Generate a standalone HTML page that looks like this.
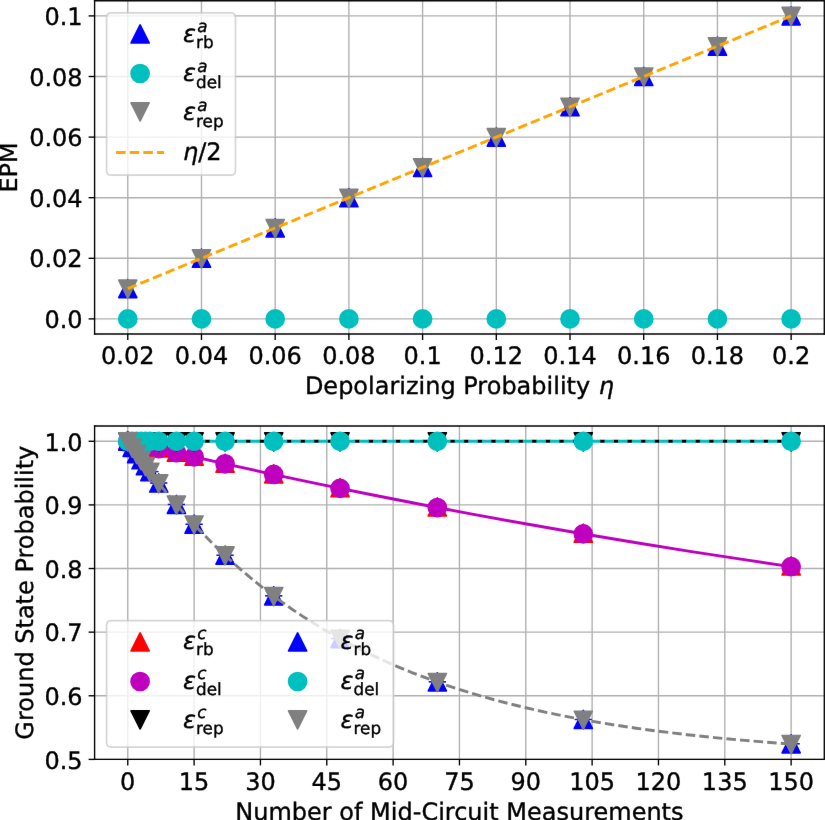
<!DOCTYPE html>
<html><head><meta charset="utf-8"><title>EPM and Ground State Probability</title>
<style>html,body{margin:0;padding:0;background:#fff;overflow:hidden;}svg{display:block;}svg text{text-rendering:geometricPrecision;stroke:#000;stroke-width:0.22px;stroke-linejoin:round;}</style>
</head><body>
<svg width="825" height="820" viewBox="0 0 481.25 478.333333" version="1.1">
 
 <defs>
  <style type="text/css">*{stroke-linejoin: round; stroke-linecap: butt}</style>
 </defs>
 <defs><filter id="soft" filterUnits="userSpaceOnUse" x="-20" y="-20" width="540" height="540" color-interpolation-filters="sRGB"><feConvolveMatrix order="3" kernelMatrix="0.00163 0.03713 0.00163 0.03713 0.84497 0.03713 0.00163 0.03713 0.00163" edgeMode="duplicate"/></filter></defs><g id="figure_1" filter="url(#soft)"><rect x="-20" y="-20" width="540" height="540" fill="#ffffff"/>
  <g id="patch_1">
   <path d="M 0 478.333333 L 481.25 478.333333 L 481.25 0 L 0 0 z" style="fill: #ffffff"/>
  </g>
  <g id="axes_1">
   <g id="patch_2">
    <path d="M 55.183333 194.8625 L 480.841667 194.8625 L 480.841667 0.4375 L 55.183333 0.4375 z" style="fill: #ffffff"/>
   </g>
   <g id="matplotlib.axis_1">
    <g id="xtick_1">
     <g id="line2d_1">
      <path d="M 74.531439 194.8625 L 74.531439 0.4375" clip-path="url(#p21c2584562)" style="fill: none; stroke: #b0b0b0; stroke-width: 0.8; stroke-linecap: square"/>
     </g>
     <g id="line2d_2">
      
      <g>
       <path d="M 0 0 L 0 3.5" transform="translate(74.531439 194.8625)" style="stroke: #000000; stroke-width: 0.8"/>
      </g>
     </g>
     <g id="text_1">
      <text style="font-size: 14px; font-family: 'DejaVu Sans', sans-serif; text-anchor: middle" x="74.531439" y="212.500313" transform="rotate(-0 74.531439 212.500313)">0.02</text>
     </g>
    </g>
    <g id="xtick_2">
     <g id="line2d_3">
      <path d="M 117.527231 194.8625 L 117.527231 0.4375" clip-path="url(#p21c2584562)" style="fill: none; stroke: #b0b0b0; stroke-width: 0.8; stroke-linecap: square"/>
     </g>
     <g id="line2d_4">
      <g>
       <path d="M 0 0 L 0 3.5" transform="translate(117.527231 194.8625)" style="stroke: #000000; stroke-width: 0.8"/>
      </g>
     </g>
     <g id="text_2">
      <text style="font-size: 14px; font-family: 'DejaVu Sans', sans-serif; text-anchor: middle" x="117.527231" y="212.500313" transform="rotate(-0 117.527231 212.500313)">0.04</text>
     </g>
    </g>
    <g id="xtick_3">
     <g id="line2d_5">
      <path d="M 160.523022 194.8625 L 160.523022 0.4375" clip-path="url(#p21c2584562)" style="fill: none; stroke: #b0b0b0; stroke-width: 0.8; stroke-linecap: square"/>
     </g>
     <g id="line2d_6">
      <g>
       <path d="M 0 0 L 0 3.5" transform="translate(160.523022 194.8625)" style="stroke: #000000; stroke-width: 0.8"/>
      </g>
     </g>
     <g id="text_3">
      <text style="font-size: 14px; font-family: 'DejaVu Sans', sans-serif; text-anchor: middle" x="160.523022" y="212.500313" transform="rotate(-0 160.523022 212.500313)">0.06</text>
     </g>
    </g>
    <g id="xtick_4">
     <g id="line2d_7">
      <path d="M 203.518813 194.8625 L 203.518813 0.4375" clip-path="url(#p21c2584562)" style="fill: none; stroke: #b0b0b0; stroke-width: 0.8; stroke-linecap: square"/>
     </g>
     <g id="line2d_8">
      <g>
       <path d="M 0 0 L 0 3.5" transform="translate(203.518813 194.8625)" style="stroke: #000000; stroke-width: 0.8"/>
      </g>
     </g>
     <g id="text_4">
      <text style="font-size: 14px; font-family: 'DejaVu Sans', sans-serif; text-anchor: middle" x="203.518813" y="212.500313" transform="rotate(-0 203.518813 212.500313)">0.08</text>
     </g>
    </g>
    <g id="xtick_5">
     <g id="line2d_9">
      <path d="M 246.514604 194.8625 L 246.514604 0.4375" clip-path="url(#p21c2584562)" style="fill: none; stroke: #b0b0b0; stroke-width: 0.8; stroke-linecap: square"/>
     </g>
     <g id="line2d_10">
      <g>
       <path d="M 0 0 L 0 3.5" transform="translate(246.514604 194.8625)" style="stroke: #000000; stroke-width: 0.8"/>
      </g>
     </g>
     <g id="text_5">
      <text style="font-size: 14px; font-family: 'DejaVu Sans', sans-serif; text-anchor: middle" x="246.514604" y="212.500313" transform="rotate(-0 246.514604 212.500313)">0.1</text>
     </g>
    </g>
    <g id="xtick_6">
     <g id="line2d_11">
      <path d="M 289.510396 194.8625 L 289.510396 0.4375" clip-path="url(#p21c2584562)" style="fill: none; stroke: #b0b0b0; stroke-width: 0.8; stroke-linecap: square"/>
     </g>
     <g id="line2d_12">
      <g>
       <path d="M 0 0 L 0 3.5" transform="translate(289.510396 194.8625)" style="stroke: #000000; stroke-width: 0.8"/>
      </g>
     </g>
     <g id="text_6">
      <text style="font-size: 14px; font-family: 'DejaVu Sans', sans-serif; text-anchor: middle" x="289.510396" y="212.500313" transform="rotate(-0 289.510396 212.500313)">0.12</text>
     </g>
    </g>
    <g id="xtick_7">
     <g id="line2d_13">
      <path d="M 332.506187 194.8625 L 332.506187 0.4375" clip-path="url(#p21c2584562)" style="fill: none; stroke: #b0b0b0; stroke-width: 0.8; stroke-linecap: square"/>
     </g>
     <g id="line2d_14">
      <g>
       <path d="M 0 0 L 0 3.5" transform="translate(332.506187 194.8625)" style="stroke: #000000; stroke-width: 0.8"/>
      </g>
     </g>
     <g id="text_7">
      <text style="font-size: 14px; font-family: 'DejaVu Sans', sans-serif; text-anchor: middle" x="332.506187" y="212.500313" transform="rotate(-0 332.506187 212.500313)">0.14</text>
     </g>
    </g>
    <g id="xtick_8">
     <g id="line2d_15">
      <path d="M 375.501978 194.8625 L 375.501978 0.4375" clip-path="url(#p21c2584562)" style="fill: none; stroke: #b0b0b0; stroke-width: 0.8; stroke-linecap: square"/>
     </g>
     <g id="line2d_16">
      <g>
       <path d="M 0 0 L 0 3.5" transform="translate(375.501978 194.8625)" style="stroke: #000000; stroke-width: 0.8"/>
      </g>
     </g>
     <g id="text_8">
      <text style="font-size: 14px; font-family: 'DejaVu Sans', sans-serif; text-anchor: middle" x="375.501978" y="212.500313" transform="rotate(-0 375.501978 212.500313)">0.16</text>
     </g>
    </g>
    <g id="xtick_9">
     <g id="line2d_17">
      <path d="M 418.497769 194.8625 L 418.497769 0.4375" clip-path="url(#p21c2584562)" style="fill: none; stroke: #b0b0b0; stroke-width: 0.8; stroke-linecap: square"/>
     </g>
     <g id="line2d_18">
      <g>
       <path d="M 0 0 L 0 3.5" transform="translate(418.497769 194.8625)" style="stroke: #000000; stroke-width: 0.8"/>
      </g>
     </g>
     <g id="text_9">
      <text style="font-size: 14px; font-family: 'DejaVu Sans', sans-serif; text-anchor: middle" x="418.497769" y="212.500313" transform="rotate(-0 418.497769 212.500313)">0.18</text>
     </g>
    </g>
    <g id="xtick_10">
     <g id="line2d_19">
      <path d="M 461.493561 194.8625 L 461.493561 0.4375" clip-path="url(#p21c2584562)" style="fill: none; stroke: #b0b0b0; stroke-width: 0.8; stroke-linecap: square"/>
     </g>
     <g id="line2d_20">
      <g>
       <path d="M 0 0 L 0 3.5" transform="translate(461.493561 194.8625)" style="stroke: #000000; stroke-width: 0.8"/>
      </g>
     </g>
     <g id="text_10">
      <text style="font-size: 14px; font-family: 'DejaVu Sans', sans-serif; text-anchor: middle" x="461.493561" y="212.500313" transform="rotate(-0 461.493561 212.500313)">0.2</text>
     </g>
    </g>
    <g id="text_11">
     
     <g transform="translate(177.8525 230.460208)">
      <text><tspan x="0" y="-0.359375" style="font-size: 14px; font-family: 'DejaVu Sans', sans-serif">Depolarizing Probability </tspan><tspan x="171.417969" y="-0.359375" style="font-style: oblique; font-size: 14px; font-family: 'DejaVu Sans', sans-serif">η</tspan></text>
     </g>
    </g>
   </g>
   <g id="matplotlib.axis_2">
    <g id="ytick_1">
     <g id="line2d_21">
      <path d="M 55.183333 186.025 L 480.841667 186.025" clip-path="url(#p21c2584562)" style="fill: none; stroke: #b0b0b0; stroke-width: 0.8; stroke-linecap: square"/>
     </g>
     <g id="line2d_22">
      
      <g>
       <path d="M 0 0 L -3.5 0" transform="translate(55.183333 186.025)" style="stroke: #000000; stroke-width: 0.8"/>
      </g>
     </g>
     <g id="text_12">
      <text style="font-size: 14px; font-family: 'DejaVu Sans', sans-serif; text-anchor: end" x="48.183333" y="191.343906" transform="rotate(-0 48.183333 191.343906)">0.0</text>
     </g>
    </g>
    <g id="ytick_2">
     <g id="line2d_23">
      <path d="M 55.183333 150.675 L 480.841667 150.675" clip-path="url(#p21c2584562)" style="fill: none; stroke: #b0b0b0; stroke-width: 0.8; stroke-linecap: square"/>
     </g>
     <g id="line2d_24">
      <g>
       <path d="M 0 0 L -3.5 0" transform="translate(55.183333 150.675)" style="stroke: #000000; stroke-width: 0.8"/>
      </g>
     </g>
     <g id="text_13">
      <text style="font-size: 14px; font-family: 'DejaVu Sans', sans-serif; text-anchor: end" x="48.183333" y="155.993906" transform="rotate(-0 48.183333 155.993906)">0.02</text>
     </g>
    </g>
    <g id="ytick_3">
     <g id="line2d_25">
      <path d="M 55.183333 115.325 L 480.841667 115.325" clip-path="url(#p21c2584562)" style="fill: none; stroke: #b0b0b0; stroke-width: 0.8; stroke-linecap: square"/>
     </g>
     <g id="line2d_26">
      <g>
       <path d="M 0 0 L -3.5 0" transform="translate(55.183333 115.325)" style="stroke: #000000; stroke-width: 0.8"/>
      </g>
     </g>
     <g id="text_14">
      <text style="font-size: 14px; font-family: 'DejaVu Sans', sans-serif; text-anchor: end" x="48.183333" y="120.643906" transform="rotate(-0 48.183333 120.643906)">0.04</text>
     </g>
    </g>
    <g id="ytick_4">
     <g id="line2d_27">
      <path d="M 55.183333 79.975 L 480.841667 79.975" clip-path="url(#p21c2584562)" style="fill: none; stroke: #b0b0b0; stroke-width: 0.8; stroke-linecap: square"/>
     </g>
     <g id="line2d_28">
      <g>
       <path d="M 0 0 L -3.5 0" transform="translate(55.183333 79.975)" style="stroke: #000000; stroke-width: 0.8"/>
      </g>
     </g>
     <g id="text_15">
      <text style="font-size: 14px; font-family: 'DejaVu Sans', sans-serif; text-anchor: end" x="48.183333" y="85.293906" transform="rotate(-0 48.183333 85.293906)">0.06</text>
     </g>
    </g>
    <g id="ytick_5">
     <g id="line2d_29">
      <path d="M 55.183333 44.625 L 480.841667 44.625" clip-path="url(#p21c2584562)" style="fill: none; stroke: #b0b0b0; stroke-width: 0.8; stroke-linecap: square"/>
     </g>
     <g id="line2d_30">
      <g>
       <path d="M 0 0 L -3.5 0" transform="translate(55.183333 44.625)" style="stroke: #000000; stroke-width: 0.8"/>
      </g>
     </g>
     <g id="text_16">
      <text style="font-size: 14px; font-family: 'DejaVu Sans', sans-serif; text-anchor: end" x="48.183333" y="49.943906" transform="rotate(-0 48.183333 49.943906)">0.08</text>
     </g>
    </g>
    <g id="ytick_6">
     <g id="line2d_31">
      <path d="M 55.183333 9.275 L 480.841667 9.275" clip-path="url(#p21c2584562)" style="fill: none; stroke: #b0b0b0; stroke-width: 0.8; stroke-linecap: square"/>
     </g>
     <g id="line2d_32">
      <g>
       <path d="M 0 0 L -3.5 0" transform="translate(55.183333 9.275)" style="stroke: #000000; stroke-width: 0.8"/>
      </g>
     </g>
     <g id="text_17">
      <text style="font-size: 14px; font-family: 'DejaVu Sans', sans-serif; text-anchor: end" x="48.183333" y="14.593906" transform="rotate(-0 48.183333 14.593906)">0.1</text>
     </g>
    </g>
    <g id="text_18">
     <text style="font-size: 14px; font-family: 'DejaVu Sans', sans-serif; text-anchor: middle" x="10.099896" y="97.65" transform="rotate(-90 10.099896 97.65)">EPM</text>
    </g>
   </g>
   <g id="line2d_33">
    
    <g clip-path="url(#p21c2584562)">
     <path d="M 0 -5.25 L -5.25 5.25 L 5.25 5.25 z" transform="translate(74.531439 168.317333)" style="fill: #0000ff; stroke: #0000ff"/>
     <path d="M 0 -5.25 L -5.25 5.25 L 5.25 5.25 z" transform="translate(117.527231 150.642333)" style="fill: #0000ff; stroke: #0000ff"/>
     <path d="M 0 -5.25 L -5.25 5.25 L 5.25 5.25 z" transform="translate(160.523022 132.967333)" style="fill: #0000ff; stroke: #0000ff"/>
     <path d="M 0 -5.25 L -5.25 5.25 L 5.25 5.25 z" transform="translate(203.518813 115.292333)" style="fill: #0000ff; stroke: #0000ff"/>
     <path d="M 0 -5.25 L -5.25 5.25 L 5.25 5.25 z" transform="translate(246.514604 97.617333)" style="fill: #0000ff; stroke: #0000ff"/>
     <path d="M 0 -5.25 L -5.25 5.25 L 5.25 5.25 z" transform="translate(289.510396 79.942333)" style="fill: #0000ff; stroke: #0000ff"/>
     <path d="M 0 -5.25 L -5.25 5.25 L 5.25 5.25 z" transform="translate(332.506187 62.267333)" style="fill: #0000ff; stroke: #0000ff"/>
     <path d="M 0 -5.25 L -5.25 5.25 L 5.25 5.25 z" transform="translate(375.501978 44.592333)" style="fill: #0000ff; stroke: #0000ff"/>
     <path d="M 0 -5.25 L -5.25 5.25 L 5.25 5.25 z" transform="translate(418.497769 26.917333)" style="fill: #0000ff; stroke: #0000ff"/>
     <path d="M 0 -5.25 L -5.25 5.25 L 5.25 5.25 z" transform="translate(461.493561 9.242333)" style="fill: #0000ff; stroke: #0000ff"/>
    </g>
   </g>
   <g id="line2d_34">
    
    <g clip-path="url(#p21c2584562)">
     <path d="M 0 5.25 C 1.392316 5.25 2.727794 4.696827 3.712311 3.712311 C 4.696827 2.727794 5.25 1.392316 5.25 0 C 5.25 -1.392316 4.696827 -2.727794 3.712311 -3.712311 C 2.727794 -4.696827 1.392316 -5.25 0 -5.25 C -1.392316 -5.25 -2.727794 -4.696827 -3.712311 -3.712311 C -4.696827 -2.727794 -5.25 -1.392316 -5.25 0 C -5.25 1.392316 -4.696827 2.727794 -3.712311 3.712311 C -2.727794 4.696827 -1.392316 5.25 0 5.25 z" transform="translate(74.531439 186.025)" style="fill: #00bfbf; stroke: #00bfbf"/>
     <path d="M 0 5.25 C 1.392316 5.25 2.727794 4.696827 3.712311 3.712311 C 4.696827 2.727794 5.25 1.392316 5.25 0 C 5.25 -1.392316 4.696827 -2.727794 3.712311 -3.712311 C 2.727794 -4.696827 1.392316 -5.25 0 -5.25 C -1.392316 -5.25 -2.727794 -4.696827 -3.712311 -3.712311 C -4.696827 -2.727794 -5.25 -1.392316 -5.25 0 C -5.25 1.392316 -4.696827 2.727794 -3.712311 3.712311 C -2.727794 4.696827 -1.392316 5.25 0 5.25 z" transform="translate(117.527231 186.025)" style="fill: #00bfbf; stroke: #00bfbf"/>
     <path d="M 0 5.25 C 1.392316 5.25 2.727794 4.696827 3.712311 3.712311 C 4.696827 2.727794 5.25 1.392316 5.25 0 C 5.25 -1.392316 4.696827 -2.727794 3.712311 -3.712311 C 2.727794 -4.696827 1.392316 -5.25 0 -5.25 C -1.392316 -5.25 -2.727794 -4.696827 -3.712311 -3.712311 C -4.696827 -2.727794 -5.25 -1.392316 -5.25 0 C -5.25 1.392316 -4.696827 2.727794 -3.712311 3.712311 C -2.727794 4.696827 -1.392316 5.25 0 5.25 z" transform="translate(160.523022 186.025)" style="fill: #00bfbf; stroke: #00bfbf"/>
     <path d="M 0 5.25 C 1.392316 5.25 2.727794 4.696827 3.712311 3.712311 C 4.696827 2.727794 5.25 1.392316 5.25 0 C 5.25 -1.392316 4.696827 -2.727794 3.712311 -3.712311 C 2.727794 -4.696827 1.392316 -5.25 0 -5.25 C -1.392316 -5.25 -2.727794 -4.696827 -3.712311 -3.712311 C -4.696827 -2.727794 -5.25 -1.392316 -5.25 0 C -5.25 1.392316 -4.696827 2.727794 -3.712311 3.712311 C -2.727794 4.696827 -1.392316 5.25 0 5.25 z" transform="translate(203.518813 186.025)" style="fill: #00bfbf; stroke: #00bfbf"/>
     <path d="M 0 5.25 C 1.392316 5.25 2.727794 4.696827 3.712311 3.712311 C 4.696827 2.727794 5.25 1.392316 5.25 0 C 5.25 -1.392316 4.696827 -2.727794 3.712311 -3.712311 C 2.727794 -4.696827 1.392316 -5.25 0 -5.25 C -1.392316 -5.25 -2.727794 -4.696827 -3.712311 -3.712311 C -4.696827 -2.727794 -5.25 -1.392316 -5.25 0 C -5.25 1.392316 -4.696827 2.727794 -3.712311 3.712311 C -2.727794 4.696827 -1.392316 5.25 0 5.25 z" transform="translate(246.514604 186.025)" style="fill: #00bfbf; stroke: #00bfbf"/>
     <path d="M 0 5.25 C 1.392316 5.25 2.727794 4.696827 3.712311 3.712311 C 4.696827 2.727794 5.25 1.392316 5.25 0 C 5.25 -1.392316 4.696827 -2.727794 3.712311 -3.712311 C 2.727794 -4.696827 1.392316 -5.25 0 -5.25 C -1.392316 -5.25 -2.727794 -4.696827 -3.712311 -3.712311 C -4.696827 -2.727794 -5.25 -1.392316 -5.25 0 C -5.25 1.392316 -4.696827 2.727794 -3.712311 3.712311 C -2.727794 4.696827 -1.392316 5.25 0 5.25 z" transform="translate(289.510396 186.025)" style="fill: #00bfbf; stroke: #00bfbf"/>
     <path d="M 0 5.25 C 1.392316 5.25 2.727794 4.696827 3.712311 3.712311 C 4.696827 2.727794 5.25 1.392316 5.25 0 C 5.25 -1.392316 4.696827 -2.727794 3.712311 -3.712311 C 2.727794 -4.696827 1.392316 -5.25 0 -5.25 C -1.392316 -5.25 -2.727794 -4.696827 -3.712311 -3.712311 C -4.696827 -2.727794 -5.25 -1.392316 -5.25 0 C -5.25 1.392316 -4.696827 2.727794 -3.712311 3.712311 C -2.727794 4.696827 -1.392316 5.25 0 5.25 z" transform="translate(332.506187 186.025)" style="fill: #00bfbf; stroke: #00bfbf"/>
     <path d="M 0 5.25 C 1.392316 5.25 2.727794 4.696827 3.712311 3.712311 C 4.696827 2.727794 5.25 1.392316 5.25 0 C 5.25 -1.392316 4.696827 -2.727794 3.712311 -3.712311 C 2.727794 -4.696827 1.392316 -5.25 0 -5.25 C -1.392316 -5.25 -2.727794 -4.696827 -3.712311 -3.712311 C -4.696827 -2.727794 -5.25 -1.392316 -5.25 0 C -5.25 1.392316 -4.696827 2.727794 -3.712311 3.712311 C -2.727794 4.696827 -1.392316 5.25 0 5.25 z" transform="translate(375.501978 186.025)" style="fill: #00bfbf; stroke: #00bfbf"/>
     <path d="M 0 5.25 C 1.392316 5.25 2.727794 4.696827 3.712311 3.712311 C 4.696827 2.727794 5.25 1.392316 5.25 0 C 5.25 -1.392316 4.696827 -2.727794 3.712311 -3.712311 C 2.727794 -4.696827 1.392316 -5.25 0 -5.25 C -1.392316 -5.25 -2.727794 -4.696827 -3.712311 -3.712311 C -4.696827 -2.727794 -5.25 -1.392316 -5.25 0 C -5.25 1.392316 -4.696827 2.727794 -3.712311 3.712311 C -2.727794 4.696827 -1.392316 5.25 0 5.25 z" transform="translate(418.497769 186.025)" style="fill: #00bfbf; stroke: #00bfbf"/>
     <path d="M 0 5.25 C 1.392316 5.25 2.727794 4.696827 3.712311 3.712311 C 4.696827 2.727794 5.25 1.392316 5.25 0 C 5.25 -1.392316 4.696827 -2.727794 3.712311 -3.712311 C 2.727794 -4.696827 1.392316 -5.25 0 -5.25 C -1.392316 -5.25 -2.727794 -4.696827 -3.712311 -3.712311 C -4.696827 -2.727794 -5.25 -1.392316 -5.25 0 C -5.25 1.392316 -4.696827 2.727794 -3.712311 3.712311 C -2.727794 4.696827 -1.392316 5.25 0 5.25 z" transform="translate(461.493561 186.025)" style="fill: #00bfbf; stroke: #00bfbf"/>
    </g>
   </g>
   <g id="line2d_35">
    
    <g clip-path="url(#p21c2584562)">
     <path d="M -0 5.25 L 5.25 -5.25 L -5.25 -5.25 z" transform="translate(74.531439 168.670833)" style="fill: #808080; stroke: #808080"/>
     <path d="M -0 5.25 L 5.25 -5.25 L -5.25 -5.25 z" transform="translate(117.527231 150.995833)" style="fill: #808080; stroke: #808080"/>
     <path d="M -0 5.25 L 5.25 -5.25 L -5.25 -5.25 z" transform="translate(160.523022 133.320833)" style="fill: #808080; stroke: #808080"/>
     <path d="M -0 5.25 L 5.25 -5.25 L -5.25 -5.25 z" transform="translate(203.518813 115.645833)" style="fill: #808080; stroke: #808080"/>
     <path d="M -0 5.25 L 5.25 -5.25 L -5.25 -5.25 z" transform="translate(246.514604 97.970833)" style="fill: #808080; stroke: #808080"/>
     <path d="M -0 5.25 L 5.25 -5.25 L -5.25 -5.25 z" transform="translate(289.510396 80.295833)" style="fill: #808080; stroke: #808080"/>
     <path d="M -0 5.25 L 5.25 -5.25 L -5.25 -5.25 z" transform="translate(332.506187 62.620833)" style="fill: #808080; stroke: #808080"/>
     <path d="M -0 5.25 L 5.25 -5.25 L -5.25 -5.25 z" transform="translate(375.501978 44.945833)" style="fill: #808080; stroke: #808080"/>
     <path d="M -0 5.25 L 5.25 -5.25 L -5.25 -5.25 z" transform="translate(418.497769 27.270833)" style="fill: #808080; stroke: #808080"/>
     <path d="M -0 5.25 L 5.25 -5.25 L -5.25 -5.25 z" transform="translate(461.493561 9.595833)" style="fill: #808080; stroke: #808080"/>
    </g>
   </g>
   <g id="line2d_36">
    <path d="M 74.531439 168.35 L 117.527231 150.675 L 160.523022 133 L 203.518813 115.325 L 246.514604 97.65 L 289.510396 79.975 L 332.506187 62.3 L 375.501978 44.625 L 418.497769 26.95 L 461.493561 9.275" clip-path="url(#p21c2584562)" style="fill: none; stroke-dasharray: 5.5475,2.3975; stroke-dashoffset: 0; stroke: #ffa500; stroke-width: 1.7"/>
   </g>
   <g id="patch_3">
    <path d="M 55.183333 194.8625 L 55.183333 0.4375" style="fill: none; stroke: #000000; stroke-width: 0.8; stroke-linejoin: miter; stroke-linecap: square"/>
   </g>
   <g id="patch_4">
    <path d="M 480.841667 194.8625 L 480.841667 0.4375" style="fill: none; stroke: #000000; stroke-width: 0.8; stroke-linejoin: miter; stroke-linecap: square"/>
   </g>
   <g id="patch_5">
    <path d="M 55.183333 194.8625 L 480.841667 194.8625" style="fill: none; stroke: #000000; stroke-width: 0.8; stroke-linejoin: miter; stroke-linecap: square"/>
   </g>
   <g id="patch_6">
    <path d="M 55.183333 0.4375 L 480.841667 0.4375" style="fill: none; stroke: #000000; stroke-width: 0.8; stroke-linejoin: miter; stroke-linecap: square"/>
   </g>
  </g>
  <g id="axes_2">
   <g id="patch_7">
    <path d="M 55.183333 442.983333 L 480.841667 442.983333 L 480.841667 248.5 L 55.183333 248.5 z" style="fill: #ffffff"/>
   </g>
   <g id="matplotlib.axis_3">
    <g id="xtick_11">
     <g id="line2d_37">
      <path d="M 74.531439 442.983333 L 74.531439 248.5" clip-path="url(#pf8ef71c514)" style="fill: none; stroke: #b0b0b0; stroke-width: 0.8; stroke-linecap: square"/>
     </g>
     <g id="line2d_38">
      <g>
       <path d="M 0 0 L 0 3.5" transform="translate(74.531439 442.983333)" style="stroke: #000000; stroke-width: 0.8"/>
      </g>
     </g>
     <g id="text_19">
      <text style="font-size: 14px; font-family: 'DejaVu Sans', sans-serif; text-anchor: middle" x="74.531439" y="460.621146" transform="rotate(-0 74.531439 460.621146)">0</text>
     </g>
    </g>
    <g id="xtick_12">
     <g id="line2d_39">
      <path d="M 113.227652 442.983333 L 113.227652 248.5" clip-path="url(#pf8ef71c514)" style="fill: none; stroke: #b0b0b0; stroke-width: 0.8; stroke-linecap: square"/>
     </g>
     <g id="line2d_40">
      <g>
       <path d="M 0 0 L 0 3.5" transform="translate(113.227652 442.983333)" style="stroke: #000000; stroke-width: 0.8"/>
      </g>
     </g>
     <g id="text_20">
      <text style="font-size: 14px; font-family: 'DejaVu Sans', sans-serif; text-anchor: middle" x="113.227652" y="460.621146" transform="rotate(-0 113.227652 460.621146)">15</text>
     </g>
    </g>
    <g id="xtick_13">
     <g id="line2d_41">
      <path d="M 151.923864 442.983333 L 151.923864 248.5" clip-path="url(#pf8ef71c514)" style="fill: none; stroke: #b0b0b0; stroke-width: 0.8; stroke-linecap: square"/>
     </g>
     <g id="line2d_42">
      <g>
       <path d="M 0 0 L 0 3.5" transform="translate(151.923864 442.983333)" style="stroke: #000000; stroke-width: 0.8"/>
      </g>
     </g>
     <g id="text_21">
      <text style="font-size: 14px; font-family: 'DejaVu Sans', sans-serif; text-anchor: middle" x="151.923864" y="460.621146" transform="rotate(-0 151.923864 460.621146)">30</text>
     </g>
    </g>
    <g id="xtick_14">
     <g id="line2d_43">
      <path d="M 190.620076 442.983333 L 190.620076 248.5" clip-path="url(#pf8ef71c514)" style="fill: none; stroke: #b0b0b0; stroke-width: 0.8; stroke-linecap: square"/>
     </g>
     <g id="line2d_44">
      <g>
       <path d="M 0 0 L 0 3.5" transform="translate(190.620076 442.983333)" style="stroke: #000000; stroke-width: 0.8"/>
      </g>
     </g>
     <g id="text_22">
      <text style="font-size: 14px; font-family: 'DejaVu Sans', sans-serif; text-anchor: middle" x="190.620076" y="460.621146" transform="rotate(-0 190.620076 460.621146)">45</text>
     </g>
    </g>
    <g id="xtick_15">
     <g id="line2d_45">
      <path d="M 229.316288 442.983333 L 229.316288 248.5" clip-path="url(#pf8ef71c514)" style="fill: none; stroke: #b0b0b0; stroke-width: 0.8; stroke-linecap: square"/>
     </g>
     <g id="line2d_46">
      <g>
       <path d="M 0 0 L 0 3.5" transform="translate(229.316288 442.983333)" style="stroke: #000000; stroke-width: 0.8"/>
      </g>
     </g>
     <g id="text_23">
      <text style="font-size: 14px; font-family: 'DejaVu Sans', sans-serif; text-anchor: middle" x="229.316288" y="460.621146" transform="rotate(-0 229.316288 460.621146)">60</text>
     </g>
    </g>
    <g id="xtick_16">
     <g id="line2d_47">
      <path d="M 268.0125 442.983333 L 268.0125 248.5" clip-path="url(#pf8ef71c514)" style="fill: none; stroke: #b0b0b0; stroke-width: 0.8; stroke-linecap: square"/>
     </g>
     <g id="line2d_48">
      <g>
       <path d="M 0 0 L 0 3.5" transform="translate(268.0125 442.983333)" style="stroke: #000000; stroke-width: 0.8"/>
      </g>
     </g>
     <g id="text_24">
      <text style="font-size: 14px; font-family: 'DejaVu Sans', sans-serif; text-anchor: middle" x="268.0125" y="460.621146" transform="rotate(-0 268.0125 460.621146)">75</text>
     </g>
    </g>
    <g id="xtick_17">
     <g id="line2d_49">
      <path d="M 306.708712 442.983333 L 306.708712 248.5" clip-path="url(#pf8ef71c514)" style="fill: none; stroke: #b0b0b0; stroke-width: 0.8; stroke-linecap: square"/>
     </g>
     <g id="line2d_50">
      <g>
       <path d="M 0 0 L 0 3.5" transform="translate(306.708712 442.983333)" style="stroke: #000000; stroke-width: 0.8"/>
      </g>
     </g>
     <g id="text_25">
      <text style="font-size: 14px; font-family: 'DejaVu Sans', sans-serif; text-anchor: middle" x="306.708712" y="460.621146" transform="rotate(-0 306.708712 460.621146)">90</text>
     </g>
    </g>
    <g id="xtick_18">
     <g id="line2d_51">
      <path d="M 345.404924 442.983333 L 345.404924 248.5" clip-path="url(#pf8ef71c514)" style="fill: none; stroke: #b0b0b0; stroke-width: 0.8; stroke-linecap: square"/>
     </g>
     <g id="line2d_52">
      <g>
       <path d="M 0 0 L 0 3.5" transform="translate(345.404924 442.983333)" style="stroke: #000000; stroke-width: 0.8"/>
      </g>
     </g>
     <g id="text_26">
      <text style="font-size: 14px; font-family: 'DejaVu Sans', sans-serif; text-anchor: middle" x="345.404924" y="460.621146" transform="rotate(-0 345.404924 460.621146)">105</text>
     </g>
    </g>
    <g id="xtick_19">
     <g id="line2d_53">
      <path d="M 384.101136 442.983333 L 384.101136 248.5" clip-path="url(#pf8ef71c514)" style="fill: none; stroke: #b0b0b0; stroke-width: 0.8; stroke-linecap: square"/>
     </g>
     <g id="line2d_54">
      <g>
       <path d="M 0 0 L 0 3.5" transform="translate(384.101136 442.983333)" style="stroke: #000000; stroke-width: 0.8"/>
      </g>
     </g>
     <g id="text_27">
      <text style="font-size: 14px; font-family: 'DejaVu Sans', sans-serif; text-anchor: middle" x="384.101136" y="460.621146" transform="rotate(-0 384.101136 460.621146)">120</text>
     </g>
    </g>
    <g id="xtick_20">
     <g id="line2d_55">
      <path d="M 422.797348 442.983333 L 422.797348 248.5" clip-path="url(#pf8ef71c514)" style="fill: none; stroke: #b0b0b0; stroke-width: 0.8; stroke-linecap: square"/>
     </g>
     <g id="line2d_56">
      <g>
       <path d="M 0 0 L 0 3.5" transform="translate(422.797348 442.983333)" style="stroke: #000000; stroke-width: 0.8"/>
      </g>
     </g>
     <g id="text_28">
      <text style="font-size: 14px; font-family: 'DejaVu Sans', sans-serif; text-anchor: middle" x="422.797348" y="460.621146" transform="rotate(-0 422.797348 460.621146)">135</text>
     </g>
    </g>
    <g id="xtick_21">
     <g id="line2d_57">
      <path d="M 461.493561 442.983333 L 461.493561 248.5" clip-path="url(#pf8ef71c514)" style="fill: none; stroke: #b0b0b0; stroke-width: 0.8; stroke-linecap: square"/>
     </g>
     <g id="line2d_58">
      <g>
       <path d="M 0 0 L 0 3.5" transform="translate(461.493561 442.983333)" style="stroke: #000000; stroke-width: 0.8"/>
      </g>
     </g>
     <g id="text_29">
      <text style="font-size: 14px; font-family: 'DejaVu Sans', sans-serif; text-anchor: middle" x="461.493561" y="460.621146" transform="rotate(-0 461.493561 460.621146)">150</text>
     </g>
    </g>
    <g id="text_30">
     <text style="font-size: 14px; font-family: 'DejaVu Sans', sans-serif; text-anchor: middle" x="268.0125" y="478.170521" transform="rotate(-0 268.0125 478.170521)">Number of Mid-Circuit Measurements</text>
    </g>
   </g>
   <g id="matplotlib.axis_4">
    <g id="ytick_7">
     <g id="line2d_59">
      <path d="M 55.183333 442.983333 L 480.841667 442.983333" clip-path="url(#pf8ef71c514)" style="fill: none; stroke: #b0b0b0; stroke-width: 0.8; stroke-linecap: square"/>
     </g>
     <g id="line2d_60">
      <g>
       <path d="M 0 0 L -3.5 0" transform="translate(55.183333 442.983333)" style="stroke: #000000; stroke-width: 0.8"/>
      </g>
     </g>
     <g id="text_31">
      <text style="font-size: 14px; font-family: 'DejaVu Sans', sans-serif; text-anchor: end" x="48.183333" y="448.30224" transform="rotate(-0 48.183333 448.30224)">0.5</text>
     </g>
    </g>
    <g id="ytick_8">
     <g id="line2d_61">
      <path d="M 55.183333 405.868193 L 480.841667 405.868193" clip-path="url(#pf8ef71c514)" style="fill: none; stroke: #b0b0b0; stroke-width: 0.8; stroke-linecap: square"/>
     </g>
     <g id="line2d_62">
      <g>
       <path d="M 0 0 L -3.5 0" transform="translate(55.183333 405.868193)" style="stroke: #000000; stroke-width: 0.8"/>
      </g>
     </g>
     <g id="text_32">
      <text style="font-size: 14px; font-family: 'DejaVu Sans', sans-serif; text-anchor: end" x="48.183333" y="411.1871" transform="rotate(-0 48.183333 411.1871)">0.6</text>
     </g>
    </g>
    <g id="ytick_9">
     <g id="line2d_63">
      <path d="M 55.183333 368.753053 L 480.841667 368.753053" clip-path="url(#pf8ef71c514)" style="fill: none; stroke: #b0b0b0; stroke-width: 0.8; stroke-linecap: square"/>
     </g>
     <g id="line2d_64">
      <g>
       <path d="M 0 0 L -3.5 0" transform="translate(55.183333 368.753053)" style="stroke: #000000; stroke-width: 0.8"/>
      </g>
     </g>
     <g id="text_33">
      <text style="font-size: 14px; font-family: 'DejaVu Sans', sans-serif; text-anchor: end" x="48.183333" y="374.07196" transform="rotate(-0 48.183333 374.07196)">0.7</text>
     </g>
    </g>
    <g id="ytick_10">
     <g id="line2d_65">
      <path d="M 55.183333 331.637913 L 480.841667 331.637913" clip-path="url(#pf8ef71c514)" style="fill: none; stroke: #b0b0b0; stroke-width: 0.8; stroke-linecap: square"/>
     </g>
     <g id="line2d_66">
      <g>
       <path d="M 0 0 L -3.5 0" transform="translate(55.183333 331.637913)" style="stroke: #000000; stroke-width: 0.8"/>
      </g>
     </g>
     <g id="text_34">
      <text style="font-size: 14px; font-family: 'DejaVu Sans', sans-serif; text-anchor: end" x="48.183333" y="336.95682" transform="rotate(-0 48.183333 336.95682)">0.8</text>
     </g>
    </g>
    <g id="ytick_11">
     <g id="line2d_67">
      <path d="M 55.183333 294.522774 L 480.841667 294.522774" clip-path="url(#pf8ef71c514)" style="fill: none; stroke: #b0b0b0; stroke-width: 0.8; stroke-linecap: square"/>
     </g>
     <g id="line2d_68">
      <g>
       <path d="M 0 0 L -3.5 0" transform="translate(55.183333 294.522774)" style="stroke: #000000; stroke-width: 0.8"/>
      </g>
     </g>
     <g id="text_35">
      <text style="font-size: 14px; font-family: 'DejaVu Sans', sans-serif; text-anchor: end" x="48.183333" y="299.84168" transform="rotate(-0 48.183333 299.84168)">0.9</text>
     </g>
    </g>
    <g id="ytick_12">
     <g id="line2d_69">
      <path d="M 55.183333 257.407634 L 480.841667 257.407634" clip-path="url(#pf8ef71c514)" style="fill: none; stroke: #b0b0b0; stroke-width: 0.8; stroke-linecap: square"/>
     </g>
     <g id="line2d_70">
      <g>
       <path d="M 0 0 L -3.5 0" transform="translate(55.183333 257.407634)" style="stroke: #000000; stroke-width: 0.8"/>
      </g>
     </g>
     <g id="text_36">
      <text style="font-size: 14px; font-family: 'DejaVu Sans', sans-serif; text-anchor: end" x="48.183333" y="263.309873" transform="rotate(-0 48.183333 263.309873)">1.0</text>
     </g>
    </g>
    <g id="text_37">
     <text style="font-size: 14px; font-family: 'DejaVu Sans', sans-serif; text-anchor: middle" x="19.007396" y="345.741667" transform="rotate(-90 19.007396 345.741667)">Ground State Probability</text>
    </g>
   </g>
   <g id="line2d_71">
    
    <g clip-path="url(#pf8ef71c514)">
     <path d="M 0 -5.25 L -5.25 5.25 L 5.25 5.25 z" transform="translate(74.531439 257.036482)" style="fill: #ff0000; stroke: #ff0000"/>
     <path d="M 0 -5.25 L -5.25 5.25 L 5.25 5.25 z" transform="translate(77.111187 257.655271)" style="fill: #ff0000; stroke: #ff0000"/>
     <path d="M 0 -5.25 L -5.25 5.25 L 5.25 5.25 z" transform="translate(79.690934 258.271997)" style="fill: #ff0000; stroke: #ff0000"/>
     <path d="M 0 -5.25 L -5.25 5.25 L 5.25 5.25 z" transform="translate(82.270682 258.886666)" style="fill: #ff0000; stroke: #ff0000"/>
     <path d="M 0 -5.25 L -5.25 5.25 L 5.25 5.25 z" transform="translate(84.850429 259.499285)" style="fill: #ff0000; stroke: #ff0000"/>
     <path d="M 0 -5.25 L -5.25 5.25 L 5.25 5.25 z" transform="translate(87.430177 260.109862)" style="fill: #ff0000; stroke: #ff0000"/>
     <path d="M 0 -5.25 L -5.25 5.25 L 5.25 5.25 z" transform="translate(92.589672 261.324915)" style="fill: #ff0000; stroke: #ff0000"/>
     <path d="M 0 -5.25 L -5.25 5.25 L 5.25 5.25 z" transform="translate(102.908662 263.730806)" style="fill: #ff0000; stroke: #ff0000"/>
     <path d="M 0 -5.25 L -5.25 5.25 L 5.25 5.25 z" transform="translate(113.227652 266.104767)" style="fill: #ff0000; stroke: #ff0000"/>
     <path d="M 0 -5.25 L -5.25 5.25 L 5.25 5.25 z" transform="translate(131.285884 270.183643)" style="fill: #ff0000; stroke: #ff0000"/>
     <path d="M 0 -5.25 L -5.25 5.25 L 5.25 5.25 z" transform="translate(159.663106 276.403705)" style="fill: #ff0000; stroke: #ff0000"/>
     <path d="M 0 -5.25 L -5.25 5.25 L 5.25 5.25 z" transform="translate(198.359318 284.525598)" style="fill: #ff0000; stroke: #ff0000"/>
     <path d="M 0 -5.25 L -5.25 5.25 L 5.25 5.25 z" transform="translate(255.113763 295.725285)" style="fill: #ff0000; stroke: #ff0000"/>
     <path d="M 0 -5.25 L -5.25 5.25 L 5.25 5.25 z" transform="translate(340.245429 311.054831)" style="fill: #ff0000; stroke: #ff0000"/>
     <path d="M 0 -5.25 L -5.25 5.25 L 5.25 5.25 z" transform="translate(461.493561 330.167331)" style="fill: #ff0000; stroke: #ff0000"/>
    </g>
   </g>
   <g id="line2d_72">
    <path d="M 74.531439 257.407634 L 101.664009 263.813466 L 129.442592 270.1428 L 157.867188 276.387943 L 186.291785 282.407434 L 215.362395 288.338824 L 245.079019 294.175633 L 275.441656 299.911855 L 306.450307 305.541961 L 338.104971 311.060898 L 370.405649 316.464088 L 403.35234 321.74742 L 436.945045 326.907251 L 461.493561 330.538483 L 461.493561 330.538483" clip-path="url(#pf8ef71c514)" style="fill: none; stroke: #bf00bf; stroke-width: 1.7; stroke-linecap: square"/>
   </g>
   <g id="line2d_73">
    
    <g clip-path="url(#pf8ef71c514)">
     <path d="M 0 5.25 C 1.392316 5.25 2.727794 4.696827 3.712311 3.712311 C 4.696827 2.727794 5.25 1.392316 5.25 0 C 5.25 -1.392316 4.696827 -2.727794 3.712311 -3.712311 C 2.727794 -4.696827 1.392316 -5.25 0 -5.25 C -1.392316 -5.25 -2.727794 -4.696827 -3.712311 -3.712311 C -4.696827 -2.727794 -5.25 -1.392316 -5.25 0 C -5.25 1.392316 -4.696827 2.727794 -3.712311 3.712311 C -2.727794 4.696827 -1.392316 5.25 0 5.25 z" transform="translate(74.531439 257.407634)" style="fill: #bf00bf; stroke: #bf00bf"/>
     <path d="M 0 5.25 C 1.392316 5.25 2.727794 4.696827 3.712311 3.712311 C 4.696827 2.727794 5.25 1.392316 5.25 0 C 5.25 -1.392316 4.696827 -2.727794 3.712311 -3.712311 C 2.727794 -4.696827 1.392316 -5.25 0 -5.25 C -1.392316 -5.25 -2.727794 -4.696827 -3.712311 -3.712311 C -4.696827 -2.727794 -5.25 -1.392316 -5.25 0 C -5.25 1.392316 -4.696827 2.727794 -3.712311 3.712311 C -2.727794 4.696827 -1.392316 5.25 0 5.25 z" transform="translate(77.111187 258.026422)" style="fill: #bf00bf; stroke: #bf00bf"/>
     <path d="M 0 5.25 C 1.392316 5.25 2.727794 4.696827 3.712311 3.712311 C 4.696827 2.727794 5.25 1.392316 5.25 0 C 5.25 -1.392316 4.696827 -2.727794 3.712311 -3.712311 C 2.727794 -4.696827 1.392316 -5.25 0 -5.25 C -1.392316 -5.25 -2.727794 -4.696827 -3.712311 -3.712311 C -4.696827 -2.727794 -5.25 -1.392316 -5.25 0 C -5.25 1.392316 -4.696827 2.727794 -3.712311 3.712311 C -2.727794 4.696827 -1.392316 5.25 0 5.25 z" transform="translate(79.690934 258.643148)" style="fill: #bf00bf; stroke: #bf00bf"/>
     <path d="M 0 5.25 C 1.392316 5.25 2.727794 4.696827 3.712311 3.712311 C 4.696827 2.727794 5.25 1.392316 5.25 0 C 5.25 -1.392316 4.696827 -2.727794 3.712311 -3.712311 C 2.727794 -4.696827 1.392316 -5.25 0 -5.25 C -1.392316 -5.25 -2.727794 -4.696827 -3.712311 -3.712311 C -4.696827 -2.727794 -5.25 -1.392316 -5.25 0 C -5.25 1.392316 -4.696827 2.727794 -3.712311 3.712311 C -2.727794 4.696827 -1.392316 5.25 0 5.25 z" transform="translate(82.270682 259.257817)" style="fill: #bf00bf; stroke: #bf00bf"/>
     <path d="M 0 5.25 C 1.392316 5.25 2.727794 4.696827 3.712311 3.712311 C 4.696827 2.727794 5.25 1.392316 5.25 0 C 5.25 -1.392316 4.696827 -2.727794 3.712311 -3.712311 C 2.727794 -4.696827 1.392316 -5.25 0 -5.25 C -1.392316 -5.25 -2.727794 -4.696827 -3.712311 -3.712311 C -4.696827 -2.727794 -5.25 -1.392316 -5.25 0 C -5.25 1.392316 -4.696827 2.727794 -3.712311 3.712311 C -2.727794 4.696827 -1.392316 5.25 0 5.25 z" transform="translate(84.850429 259.870437)" style="fill: #bf00bf; stroke: #bf00bf"/>
     <path d="M 0 5.25 C 1.392316 5.25 2.727794 4.696827 3.712311 3.712311 C 4.696827 2.727794 5.25 1.392316 5.25 0 C 5.25 -1.392316 4.696827 -2.727794 3.712311 -3.712311 C 2.727794 -4.696827 1.392316 -5.25 0 -5.25 C -1.392316 -5.25 -2.727794 -4.696827 -3.712311 -3.712311 C -4.696827 -2.727794 -5.25 -1.392316 -5.25 0 C -5.25 1.392316 -4.696827 2.727794 -3.712311 3.712311 C -2.727794 4.696827 -1.392316 5.25 0 5.25 z" transform="translate(87.430177 260.481014)" style="fill: #bf00bf; stroke: #bf00bf"/>
     <path d="M 0 5.25 C 1.392316 5.25 2.727794 4.696827 3.712311 3.712311 C 4.696827 2.727794 5.25 1.392316 5.25 0 C 5.25 -1.392316 4.696827 -2.727794 3.712311 -3.712311 C 2.727794 -4.696827 1.392316 -5.25 0 -5.25 C -1.392316 -5.25 -2.727794 -4.696827 -3.712311 -3.712311 C -4.696827 -2.727794 -5.25 -1.392316 -5.25 0 C -5.25 1.392316 -4.696827 2.727794 -3.712311 3.712311 C -2.727794 4.696827 -1.392316 5.25 0 5.25 z" transform="translate(92.589672 261.696066)" style="fill: #bf00bf; stroke: #bf00bf"/>
     <path d="M 0 5.25 C 1.392316 5.25 2.727794 4.696827 3.712311 3.712311 C 4.696827 2.727794 5.25 1.392316 5.25 0 C 5.25 -1.392316 4.696827 -2.727794 3.712311 -3.712311 C 2.727794 -4.696827 1.392316 -5.25 0 -5.25 C -1.392316 -5.25 -2.727794 -4.696827 -3.712311 -3.712311 C -4.696827 -2.727794 -5.25 -1.392316 -5.25 0 C -5.25 1.392316 -4.696827 2.727794 -3.712311 3.712311 C -2.727794 4.696827 -1.392316 5.25 0 5.25 z" transform="translate(102.908662 264.101957)" style="fill: #bf00bf; stroke: #bf00bf"/>
     <path d="M 0 5.25 C 1.392316 5.25 2.727794 4.696827 3.712311 3.712311 C 4.696827 2.727794 5.25 1.392316 5.25 0 C 5.25 -1.392316 4.696827 -2.727794 3.712311 -3.712311 C 2.727794 -4.696827 1.392316 -5.25 0 -5.25 C -1.392316 -5.25 -2.727794 -4.696827 -3.712311 -3.712311 C -4.696827 -2.727794 -5.25 -1.392316 -5.25 0 C -5.25 1.392316 -4.696827 2.727794 -3.712311 3.712311 C -2.727794 4.696827 -1.392316 5.25 0 5.25 z" transform="translate(113.227652 266.475919)" style="fill: #bf00bf; stroke: #bf00bf"/>
     <path d="M 0 5.25 C 1.392316 5.25 2.727794 4.696827 3.712311 3.712311 C 4.696827 2.727794 5.25 1.392316 5.25 0 C 5.25 -1.392316 4.696827 -2.727794 3.712311 -3.712311 C 2.727794 -4.696827 1.392316 -5.25 0 -5.25 C -1.392316 -5.25 -2.727794 -4.696827 -3.712311 -3.712311 C -4.696827 -2.727794 -5.25 -1.392316 -5.25 0 C -5.25 1.392316 -4.696827 2.727794 -3.712311 3.712311 C -2.727794 4.696827 -1.392316 5.25 0 5.25 z" transform="translate(131.285884 270.554794)" style="fill: #bf00bf; stroke: #bf00bf"/>
     <path d="M 0 5.25 C 1.392316 5.25 2.727794 4.696827 3.712311 3.712311 C 4.696827 2.727794 5.25 1.392316 5.25 0 C 5.25 -1.392316 4.696827 -2.727794 3.712311 -3.712311 C 2.727794 -4.696827 1.392316 -5.25 0 -5.25 C -1.392316 -5.25 -2.727794 -4.696827 -3.712311 -3.712311 C -4.696827 -2.727794 -5.25 -1.392316 -5.25 0 C -5.25 1.392316 -4.696827 2.727794 -3.712311 3.712311 C -2.727794 4.696827 -1.392316 5.25 0 5.25 z" transform="translate(159.663106 276.774857)" style="fill: #bf00bf; stroke: #bf00bf"/>
     <path d="M 0 5.25 C 1.392316 5.25 2.727794 4.696827 3.712311 3.712311 C 4.696827 2.727794 5.25 1.392316 5.25 0 C 5.25 -1.392316 4.696827 -2.727794 3.712311 -3.712311 C 2.727794 -4.696827 1.392316 -5.25 0 -5.25 C -1.392316 -5.25 -2.727794 -4.696827 -3.712311 -3.712311 C -4.696827 -2.727794 -5.25 -1.392316 -5.25 0 C -5.25 1.392316 -4.696827 2.727794 -3.712311 3.712311 C -2.727794 4.696827 -1.392316 5.25 0 5.25 z" transform="translate(198.359318 284.896749)" style="fill: #bf00bf; stroke: #bf00bf"/>
     <path d="M 0 5.25 C 1.392316 5.25 2.727794 4.696827 3.712311 3.712311 C 4.696827 2.727794 5.25 1.392316 5.25 0 C 5.25 -1.392316 4.696827 -2.727794 3.712311 -3.712311 C 2.727794 -4.696827 1.392316 -5.25 0 -5.25 C -1.392316 -5.25 -2.727794 -4.696827 -3.712311 -3.712311 C -4.696827 -2.727794 -5.25 -1.392316 -5.25 0 C -5.25 1.392316 -4.696827 2.727794 -3.712311 3.712311 C -2.727794 4.696827 -1.392316 5.25 0 5.25 z" transform="translate(255.113763 296.096436)" style="fill: #bf00bf; stroke: #bf00bf"/>
     <path d="M 0 5.25 C 1.392316 5.25 2.727794 4.696827 3.712311 3.712311 C 4.696827 2.727794 5.25 1.392316 5.25 0 C 5.25 -1.392316 4.696827 -2.727794 3.712311 -3.712311 C 2.727794 -4.696827 1.392316 -5.25 0 -5.25 C -1.392316 -5.25 -2.727794 -4.696827 -3.712311 -3.712311 C -4.696827 -2.727794 -5.25 -1.392316 -5.25 0 C -5.25 1.392316 -4.696827 2.727794 -3.712311 3.712311 C -2.727794 4.696827 -1.392316 5.25 0 5.25 z" transform="translate(340.245429 311.425983)" style="fill: #bf00bf; stroke: #bf00bf"/>
     <path d="M 0 5.25 C 1.392316 5.25 2.727794 4.696827 3.712311 3.712311 C 4.696827 2.727794 5.25 1.392316 5.25 0 C 5.25 -1.392316 4.696827 -2.727794 3.712311 -3.712311 C 2.727794 -4.696827 1.392316 -5.25 0 -5.25 C -1.392316 -5.25 -2.727794 -4.696827 -3.712311 -3.712311 C -4.696827 -2.727794 -5.25 -1.392316 -5.25 0 C -5.25 1.392316 -4.696827 2.727794 -3.712311 3.712311 C -2.727794 4.696827 -1.392316 5.25 0 5.25 z" transform="translate(461.493561 330.538483)" style="fill: #bf00bf; stroke: #bf00bf"/>
    </g>
   </g>
   <g id="line2d_74">
    <path d="M 74.531439 257.407634 L 461.493561 257.407634 L 461.493561 257.407634" clip-path="url(#pf8ef71c514)" style="fill: none; stroke-dasharray: 2.980833,4.964167; stroke-dashoffset: 2.689167; stroke: #000000; stroke-width: 1.7"/>
   </g>
   <g id="line2d_75">
    
    <g clip-path="url(#pf8ef71c514)">
     <path d="M -0 5.25 L 5.25 -5.25 L -5.25 -5.25 z" transform="translate(74.531439 257.728447)" style="stroke: #000000"/>
     <path d="M -0 5.25 L 5.25 -5.25 L -5.25 -5.25 z" transform="translate(77.111187 257.728447)" style="stroke: #000000"/>
     <path d="M -0 5.25 L 5.25 -5.25 L -5.25 -5.25 z" transform="translate(79.690934 257.728447)" style="stroke: #000000"/>
     <path d="M -0 5.25 L 5.25 -5.25 L -5.25 -5.25 z" transform="translate(82.270682 257.728447)" style="stroke: #000000"/>
     <path d="M -0 5.25 L 5.25 -5.25 L -5.25 -5.25 z" transform="translate(84.850429 257.728447)" style="stroke: #000000"/>
     <path d="M -0 5.25 L 5.25 -5.25 L -5.25 -5.25 z" transform="translate(87.430177 257.728447)" style="stroke: #000000"/>
     <path d="M -0 5.25 L 5.25 -5.25 L -5.25 -5.25 z" transform="translate(92.589672 257.728447)" style="stroke: #000000"/>
     <path d="M -0 5.25 L 5.25 -5.25 L -5.25 -5.25 z" transform="translate(102.908662 257.728447)" style="stroke: #000000"/>
     <path d="M -0 5.25 L 5.25 -5.25 L -5.25 -5.25 z" transform="translate(113.227652 257.728447)" style="stroke: #000000"/>
     <path d="M -0 5.25 L 5.25 -5.25 L -5.25 -5.25 z" transform="translate(131.285884 257.728447)" style="stroke: #000000"/>
     <path d="M -0 5.25 L 5.25 -5.25 L -5.25 -5.25 z" transform="translate(159.663106 257.728447)" style="stroke: #000000"/>
     <path d="M -0 5.25 L 5.25 -5.25 L -5.25 -5.25 z" transform="translate(198.359318 257.728447)" style="stroke: #000000"/>
     <path d="M -0 5.25 L 5.25 -5.25 L -5.25 -5.25 z" transform="translate(255.113763 257.728447)" style="stroke: #000000"/>
     <path d="M -0 5.25 L 5.25 -5.25 L -5.25 -5.25 z" transform="translate(340.245429 257.728447)" style="stroke: #000000"/>
     <path d="M -0 5.25 L 5.25 -5.25 L -5.25 -5.25 z" transform="translate(461.493561 257.728447)" style="stroke: #000000"/>
    </g>
   </g>
   <g id="LineCollection_1">
    <path d="M 74.531439 257.431525 L 74.531439 257.134604" clip-path="url(#pf8ef71c514)" style="fill: none; stroke: #0000ff"/>
    <path d="M 77.111187 261.143039 L 77.111187 260.846118" clip-path="url(#pf8ef71c514)" style="fill: none; stroke: #0000ff"/>
    <path d="M 79.690934 264.780323 L 79.690934 264.483402" clip-path="url(#pf8ef71c514)" style="fill: none; stroke: #0000ff"/>
    <path d="M 82.270682 268.344861 L 82.270682 268.04794" clip-path="url(#pf8ef71c514)" style="fill: none; stroke: #0000ff"/>
    <path d="M 84.850429 271.838108 L 84.850429 271.541187" clip-path="url(#pf8ef71c514)" style="fill: none; stroke: #0000ff"/>
    <path d="M 87.430177 275.261491 L 87.430177 274.96457" clip-path="url(#pf8ef71c514)" style="fill: none; stroke: #0000ff"/>
    <path d="M 92.589672 281.904222 L 92.589672 281.607301" clip-path="url(#pf8ef71c514)" style="fill: none; stroke: #0000ff"/>
    <path d="M 102.908662 294.410944 L 102.908662 294.114023" clip-path="url(#pf8ef71c514)" style="fill: none; stroke: #0000ff"/>
    <path d="M 113.227652 305.946747 L 113.227652 305.649826" clip-path="url(#pf8ef71c514)" style="fill: none; stroke: #0000ff"/>
    <path d="M 131.285884 324.021525 L 131.285884 323.724603" clip-path="url(#pf8ef71c514)" style="fill: none; stroke: #0000ff"/>
    <path d="M 159.663106 347.731644 L 159.663106 347.434723" clip-path="url(#pf8ef71c514)" style="fill: none; stroke: #0000ff"/>
    <path d="M 198.359318 372.639625 L 198.359318 372.342704" clip-path="url(#pf8ef71c514)" style="fill: none; stroke: #0000ff"/>
    <path d="M 255.113763 397.889582 L 255.113763 397.592661" clip-path="url(#pf8ef71c514)" style="fill: none; stroke: #0000ff"/>
    <path d="M 340.245429 419.84358 L 340.245429 419.546659" clip-path="url(#pf8ef71c514)" style="fill: none; stroke: #0000ff"/>
    <path d="M 461.493561 434.044657 L 461.493561 433.747736" clip-path="url(#pf8ef71c514)" style="fill: none; stroke: #0000ff"/>
   </g>
   <g id="line2d_76">
    
    <g clip-path="url(#pf8ef71c514)">
     <path d="M 5 0 L -5 -0" transform="translate(74.531439 257.431525)" style="fill: #1f77b4; stroke: #0000ff; stroke-width: 0.55"/>
     <path d="M 5 0 L -5 -0" transform="translate(77.111187 261.143039)" style="fill: #1f77b4; stroke: #0000ff; stroke-width: 0.55"/>
     <path d="M 5 0 L -5 -0" transform="translate(79.690934 264.780323)" style="fill: #1f77b4; stroke: #0000ff; stroke-width: 0.55"/>
     <path d="M 5 0 L -5 -0" transform="translate(82.270682 268.344861)" style="fill: #1f77b4; stroke: #0000ff; stroke-width: 0.55"/>
     <path d="M 5 0 L -5 -0" transform="translate(84.850429 271.838108)" style="fill: #1f77b4; stroke: #0000ff; stroke-width: 0.55"/>
     <path d="M 5 0 L -5 -0" transform="translate(87.430177 275.261491)" style="fill: #1f77b4; stroke: #0000ff; stroke-width: 0.55"/>
     <path d="M 5 0 L -5 -0" transform="translate(92.589672 281.904222)" style="fill: #1f77b4; stroke: #0000ff; stroke-width: 0.55"/>
     <path d="M 5 0 L -5 -0" transform="translate(102.908662 294.410944)" style="fill: #1f77b4; stroke: #0000ff; stroke-width: 0.55"/>
     <path d="M 5 0 L -5 -0" transform="translate(113.227652 305.946747)" style="fill: #1f77b4; stroke: #0000ff; stroke-width: 0.55"/>
     <path d="M 5 0 L -5 -0" transform="translate(131.285884 324.021525)" style="fill: #1f77b4; stroke: #0000ff; stroke-width: 0.55"/>
     <path d="M 5 0 L -5 -0" transform="translate(159.663106 347.731644)" style="fill: #1f77b4; stroke: #0000ff; stroke-width: 0.55"/>
     <path d="M 5 0 L -5 -0" transform="translate(198.359318 372.639625)" style="fill: #1f77b4; stroke: #0000ff; stroke-width: 0.55"/>
     <path d="M 5 0 L -5 -0" transform="translate(255.113763 397.889582)" style="fill: #1f77b4; stroke: #0000ff; stroke-width: 0.55"/>
     <path d="M 5 0 L -5 -0" transform="translate(340.245429 419.84358)" style="fill: #1f77b4; stroke: #0000ff; stroke-width: 0.55"/>
     <path d="M 5 0 L -5 -0" transform="translate(461.493561 434.044657)" style="fill: #1f77b4; stroke: #0000ff; stroke-width: 0.55"/>
    </g>
   </g>
   <g id="line2d_77">
    <g clip-path="url(#pf8ef71c514)">
     <path d="M 5 0 L -5 -0" transform="translate(74.531439 257.134604)" style="fill: #1f77b4; stroke: #0000ff; stroke-width: 0.55"/>
     <path d="M 5 0 L -5 -0" transform="translate(77.111187 260.846118)" style="fill: #1f77b4; stroke: #0000ff; stroke-width: 0.55"/>
     <path d="M 5 0 L -5 -0" transform="translate(79.690934 264.483402)" style="fill: #1f77b4; stroke: #0000ff; stroke-width: 0.55"/>
     <path d="M 5 0 L -5 -0" transform="translate(82.270682 268.04794)" style="fill: #1f77b4; stroke: #0000ff; stroke-width: 0.55"/>
     <path d="M 5 0 L -5 -0" transform="translate(84.850429 271.541187)" style="fill: #1f77b4; stroke: #0000ff; stroke-width: 0.55"/>
     <path d="M 5 0 L -5 -0" transform="translate(87.430177 274.96457)" style="fill: #1f77b4; stroke: #0000ff; stroke-width: 0.55"/>
     <path d="M 5 0 L -5 -0" transform="translate(92.589672 281.607301)" style="fill: #1f77b4; stroke: #0000ff; stroke-width: 0.55"/>
     <path d="M 5 0 L -5 -0" transform="translate(102.908662 294.114023)" style="fill: #1f77b4; stroke: #0000ff; stroke-width: 0.55"/>
     <path d="M 5 0 L -5 -0" transform="translate(113.227652 305.649826)" style="fill: #1f77b4; stroke: #0000ff; stroke-width: 0.55"/>
     <path d="M 5 0 L -5 -0" transform="translate(131.285884 323.724603)" style="fill: #1f77b4; stroke: #0000ff; stroke-width: 0.55"/>
     <path d="M 5 0 L -5 -0" transform="translate(159.663106 347.434723)" style="fill: #1f77b4; stroke: #0000ff; stroke-width: 0.55"/>
     <path d="M 5 0 L -5 -0" transform="translate(198.359318 372.342704)" style="fill: #1f77b4; stroke: #0000ff; stroke-width: 0.55"/>
     <path d="M 5 0 L -5 -0" transform="translate(255.113763 397.592661)" style="fill: #1f77b4; stroke: #0000ff; stroke-width: 0.55"/>
     <path d="M 5 0 L -5 -0" transform="translate(340.245429 419.546659)" style="fill: #1f77b4; stroke: #0000ff; stroke-width: 0.55"/>
     <path d="M 5 0 L -5 -0" transform="translate(461.493561 433.747736)" style="fill: #1f77b4; stroke: #0000ff; stroke-width: 0.55"/>
    </g>
   </g>
   <g id="line2d_78">
    <g clip-path="url(#pf8ef71c514)">
     <path d="M 0 -5.25 L -5.25 5.25 L 5.25 5.25 z" transform="translate(74.531439 257.283065)" style="fill: #0000ff; stroke: #0000ff"/>
     <path d="M 0 -5.25 L -5.25 5.25 L 5.25 5.25 z" transform="translate(77.111187 260.994579)" style="fill: #0000ff; stroke: #0000ff"/>
     <path d="M 0 -5.25 L -5.25 5.25 L 5.25 5.25 z" transform="translate(79.690934 264.631863)" style="fill: #0000ff; stroke: #0000ff"/>
     <path d="M 0 -5.25 L -5.25 5.25 L 5.25 5.25 z" transform="translate(82.270682 268.196401)" style="fill: #0000ff; stroke: #0000ff"/>
     <path d="M 0 -5.25 L -5.25 5.25 L 5.25 5.25 z" transform="translate(84.850429 271.689648)" style="fill: #0000ff; stroke: #0000ff"/>
     <path d="M 0 -5.25 L -5.25 5.25 L 5.25 5.25 z" transform="translate(87.430177 275.11303)" style="fill: #0000ff; stroke: #0000ff"/>
     <path d="M 0 -5.25 L -5.25 5.25 L 5.25 5.25 z" transform="translate(92.589672 281.755761)" style="fill: #0000ff; stroke: #0000ff"/>
     <path d="M 0 -5.25 L -5.25 5.25 L 5.25 5.25 z" transform="translate(102.908662 294.262484)" style="fill: #0000ff; stroke: #0000ff"/>
     <path d="M 0 -5.25 L -5.25 5.25 L 5.25 5.25 z" transform="translate(113.227652 305.798287)" style="fill: #0000ff; stroke: #0000ff"/>
     <path d="M 0 -5.25 L -5.25 5.25 L 5.25 5.25 z" transform="translate(131.285884 323.873064)" style="fill: #0000ff; stroke: #0000ff"/>
     <path d="M 0 -5.25 L -5.25 5.25 L 5.25 5.25 z" transform="translate(159.663106 347.583184)" style="fill: #0000ff; stroke: #0000ff"/>
     <path d="M 0 -5.25 L -5.25 5.25 L 5.25 5.25 z" transform="translate(198.359318 372.491164)" style="fill: #0000ff; stroke: #0000ff"/>
     <path d="M 0 -5.25 L -5.25 5.25 L 5.25 5.25 z" transform="translate(255.113763 397.741121)" style="fill: #0000ff; stroke: #0000ff"/>
     <path d="M 0 -5.25 L -5.25 5.25 L 5.25 5.25 z" transform="translate(340.245429 419.695119)" style="fill: #0000ff; stroke: #0000ff"/>
     <path d="M 0 -5.25 L -5.25 5.25 L 5.25 5.25 z" transform="translate(461.493561 433.896197)" style="fill: #0000ff; stroke: #0000ff"/>
    </g>
   </g>
   <g id="line2d_79">
    <path d="M 74.531439 257.407634 L 461.493561 257.407634 L 461.493561 257.407634" clip-path="url(#pf8ef71c514)" style="fill: none; stroke-dasharray: 5.5475,2.3975; stroke-dashoffset: 0; stroke: #00bfbf; stroke-width: 1.7"/>
   </g>
   <g id="line2d_80">
    <g clip-path="url(#pf8ef71c514)">
     <path d="M 0 5.25 C 1.392316 5.25 2.727794 4.696827 3.712311 3.712311 C 4.696827 2.727794 5.25 1.392316 5.25 0 C 5.25 -1.392316 4.696827 -2.727794 3.712311 -3.712311 C 2.727794 -4.696827 1.392316 -5.25 0 -5.25 C -1.392316 -5.25 -2.727794 -4.696827 -3.712311 -3.712311 C -4.696827 -2.727794 -5.25 -1.392316 -5.25 0 C -5.25 1.392316 -4.696827 2.727794 -3.712311 3.712311 C -2.727794 4.696827 -1.392316 5.25 0 5.25 z" transform="translate(74.531439 257.407634)" style="fill: #00bfbf; stroke: #00bfbf"/>
     <path d="M 0 5.25 C 1.392316 5.25 2.727794 4.696827 3.712311 3.712311 C 4.696827 2.727794 5.25 1.392316 5.25 0 C 5.25 -1.392316 4.696827 -2.727794 3.712311 -3.712311 C 2.727794 -4.696827 1.392316 -5.25 0 -5.25 C -1.392316 -5.25 -2.727794 -4.696827 -3.712311 -3.712311 C -4.696827 -2.727794 -5.25 -1.392316 -5.25 0 C -5.25 1.392316 -4.696827 2.727794 -3.712311 3.712311 C -2.727794 4.696827 -1.392316 5.25 0 5.25 z" transform="translate(77.111187 257.407634)" style="fill: #00bfbf; stroke: #00bfbf"/>
     <path d="M 0 5.25 C 1.392316 5.25 2.727794 4.696827 3.712311 3.712311 C 4.696827 2.727794 5.25 1.392316 5.25 0 C 5.25 -1.392316 4.696827 -2.727794 3.712311 -3.712311 C 2.727794 -4.696827 1.392316 -5.25 0 -5.25 C -1.392316 -5.25 -2.727794 -4.696827 -3.712311 -3.712311 C -4.696827 -2.727794 -5.25 -1.392316 -5.25 0 C -5.25 1.392316 -4.696827 2.727794 -3.712311 3.712311 C -2.727794 4.696827 -1.392316 5.25 0 5.25 z" transform="translate(79.690934 257.407634)" style="fill: #00bfbf; stroke: #00bfbf"/>
     <path d="M 0 5.25 C 1.392316 5.25 2.727794 4.696827 3.712311 3.712311 C 4.696827 2.727794 5.25 1.392316 5.25 0 C 5.25 -1.392316 4.696827 -2.727794 3.712311 -3.712311 C 2.727794 -4.696827 1.392316 -5.25 0 -5.25 C -1.392316 -5.25 -2.727794 -4.696827 -3.712311 -3.712311 C -4.696827 -2.727794 -5.25 -1.392316 -5.25 0 C -5.25 1.392316 -4.696827 2.727794 -3.712311 3.712311 C -2.727794 4.696827 -1.392316 5.25 0 5.25 z" transform="translate(82.270682 257.407634)" style="fill: #00bfbf; stroke: #00bfbf"/>
     <path d="M 0 5.25 C 1.392316 5.25 2.727794 4.696827 3.712311 3.712311 C 4.696827 2.727794 5.25 1.392316 5.25 0 C 5.25 -1.392316 4.696827 -2.727794 3.712311 -3.712311 C 2.727794 -4.696827 1.392316 -5.25 0 -5.25 C -1.392316 -5.25 -2.727794 -4.696827 -3.712311 -3.712311 C -4.696827 -2.727794 -5.25 -1.392316 -5.25 0 C -5.25 1.392316 -4.696827 2.727794 -3.712311 3.712311 C -2.727794 4.696827 -1.392316 5.25 0 5.25 z" transform="translate(84.850429 257.407634)" style="fill: #00bfbf; stroke: #00bfbf"/>
     <path d="M 0 5.25 C 1.392316 5.25 2.727794 4.696827 3.712311 3.712311 C 4.696827 2.727794 5.25 1.392316 5.25 0 C 5.25 -1.392316 4.696827 -2.727794 3.712311 -3.712311 C 2.727794 -4.696827 1.392316 -5.25 0 -5.25 C -1.392316 -5.25 -2.727794 -4.696827 -3.712311 -3.712311 C -4.696827 -2.727794 -5.25 -1.392316 -5.25 0 C -5.25 1.392316 -4.696827 2.727794 -3.712311 3.712311 C -2.727794 4.696827 -1.392316 5.25 0 5.25 z" transform="translate(87.430177 257.407634)" style="fill: #00bfbf; stroke: #00bfbf"/>
     <path d="M 0 5.25 C 1.392316 5.25 2.727794 4.696827 3.712311 3.712311 C 4.696827 2.727794 5.25 1.392316 5.25 0 C 5.25 -1.392316 4.696827 -2.727794 3.712311 -3.712311 C 2.727794 -4.696827 1.392316 -5.25 0 -5.25 C -1.392316 -5.25 -2.727794 -4.696827 -3.712311 -3.712311 C -4.696827 -2.727794 -5.25 -1.392316 -5.25 0 C -5.25 1.392316 -4.696827 2.727794 -3.712311 3.712311 C -2.727794 4.696827 -1.392316 5.25 0 5.25 z" transform="translate(92.589672 257.407634)" style="fill: #00bfbf; stroke: #00bfbf"/>
     <path d="M 0 5.25 C 1.392316 5.25 2.727794 4.696827 3.712311 3.712311 C 4.696827 2.727794 5.25 1.392316 5.25 0 C 5.25 -1.392316 4.696827 -2.727794 3.712311 -3.712311 C 2.727794 -4.696827 1.392316 -5.25 0 -5.25 C -1.392316 -5.25 -2.727794 -4.696827 -3.712311 -3.712311 C -4.696827 -2.727794 -5.25 -1.392316 -5.25 0 C -5.25 1.392316 -4.696827 2.727794 -3.712311 3.712311 C -2.727794 4.696827 -1.392316 5.25 0 5.25 z" transform="translate(102.908662 257.407634)" style="fill: #00bfbf; stroke: #00bfbf"/>
     <path d="M 0 5.25 C 1.392316 5.25 2.727794 4.696827 3.712311 3.712311 C 4.696827 2.727794 5.25 1.392316 5.25 0 C 5.25 -1.392316 4.696827 -2.727794 3.712311 -3.712311 C 2.727794 -4.696827 1.392316 -5.25 0 -5.25 C -1.392316 -5.25 -2.727794 -4.696827 -3.712311 -3.712311 C -4.696827 -2.727794 -5.25 -1.392316 -5.25 0 C -5.25 1.392316 -4.696827 2.727794 -3.712311 3.712311 C -2.727794 4.696827 -1.392316 5.25 0 5.25 z" transform="translate(113.227652 257.407634)" style="fill: #00bfbf; stroke: #00bfbf"/>
     <path d="M 0 5.25 C 1.392316 5.25 2.727794 4.696827 3.712311 3.712311 C 4.696827 2.727794 5.25 1.392316 5.25 0 C 5.25 -1.392316 4.696827 -2.727794 3.712311 -3.712311 C 2.727794 -4.696827 1.392316 -5.25 0 -5.25 C -1.392316 -5.25 -2.727794 -4.696827 -3.712311 -3.712311 C -4.696827 -2.727794 -5.25 -1.392316 -5.25 0 C -5.25 1.392316 -4.696827 2.727794 -3.712311 3.712311 C -2.727794 4.696827 -1.392316 5.25 0 5.25 z" transform="translate(131.285884 257.407634)" style="fill: #00bfbf; stroke: #00bfbf"/>
     <path d="M 0 5.25 C 1.392316 5.25 2.727794 4.696827 3.712311 3.712311 C 4.696827 2.727794 5.25 1.392316 5.25 0 C 5.25 -1.392316 4.696827 -2.727794 3.712311 -3.712311 C 2.727794 -4.696827 1.392316 -5.25 0 -5.25 C -1.392316 -5.25 -2.727794 -4.696827 -3.712311 -3.712311 C -4.696827 -2.727794 -5.25 -1.392316 -5.25 0 C -5.25 1.392316 -4.696827 2.727794 -3.712311 3.712311 C -2.727794 4.696827 -1.392316 5.25 0 5.25 z" transform="translate(159.663106 257.407634)" style="fill: #00bfbf; stroke: #00bfbf"/>
     <path d="M 0 5.25 C 1.392316 5.25 2.727794 4.696827 3.712311 3.712311 C 4.696827 2.727794 5.25 1.392316 5.25 0 C 5.25 -1.392316 4.696827 -2.727794 3.712311 -3.712311 C 2.727794 -4.696827 1.392316 -5.25 0 -5.25 C -1.392316 -5.25 -2.727794 -4.696827 -3.712311 -3.712311 C -4.696827 -2.727794 -5.25 -1.392316 -5.25 0 C -5.25 1.392316 -4.696827 2.727794 -3.712311 3.712311 C -2.727794 4.696827 -1.392316 5.25 0 5.25 z" transform="translate(198.359318 257.407634)" style="fill: #00bfbf; stroke: #00bfbf"/>
     <path d="M 0 5.25 C 1.392316 5.25 2.727794 4.696827 3.712311 3.712311 C 4.696827 2.727794 5.25 1.392316 5.25 0 C 5.25 -1.392316 4.696827 -2.727794 3.712311 -3.712311 C 2.727794 -4.696827 1.392316 -5.25 0 -5.25 C -1.392316 -5.25 -2.727794 -4.696827 -3.712311 -3.712311 C -4.696827 -2.727794 -5.25 -1.392316 -5.25 0 C -5.25 1.392316 -4.696827 2.727794 -3.712311 3.712311 C -2.727794 4.696827 -1.392316 5.25 0 5.25 z" transform="translate(255.113763 257.407634)" style="fill: #00bfbf; stroke: #00bfbf"/>
     <path d="M 0 5.25 C 1.392316 5.25 2.727794 4.696827 3.712311 3.712311 C 4.696827 2.727794 5.25 1.392316 5.25 0 C 5.25 -1.392316 4.696827 -2.727794 3.712311 -3.712311 C 2.727794 -4.696827 1.392316 -5.25 0 -5.25 C -1.392316 -5.25 -2.727794 -4.696827 -3.712311 -3.712311 C -4.696827 -2.727794 -5.25 -1.392316 -5.25 0 C -5.25 1.392316 -4.696827 2.727794 -3.712311 3.712311 C -2.727794 4.696827 -1.392316 5.25 0 5.25 z" transform="translate(340.245429 257.407634)" style="fill: #00bfbf; stroke: #00bfbf"/>
     <path d="M 0 5.25 C 1.392316 5.25 2.727794 4.696827 3.712311 3.712311 C 4.696827 2.727794 5.25 1.392316 5.25 0 C 5.25 -1.392316 4.696827 -2.727794 3.712311 -3.712311 C 2.727794 -4.696827 1.392316 -5.25 0 -5.25 C -1.392316 -5.25 -2.727794 -4.696827 -3.712311 -3.712311 C -4.696827 -2.727794 -5.25 -1.392316 -5.25 0 C -5.25 1.392316 -4.696827 2.727794 -3.712311 3.712311 C -2.727794 4.696827 -1.392316 5.25 0 5.25 z" transform="translate(461.493561 257.407634)" style="fill: #00bfbf; stroke: #00bfbf"/>
    </g>
   </g>
   <g id="line2d_81">
    <path d="M 74.531439 257.407634 L 80.345561 265.667785 L 86.159683 273.560269 L 91.973805 281.101451 L 97.787927 288.306968 L 103.60205 295.19176 L 110.062185 302.482713 L 116.522321 309.413983 L 122.982456 316.003316 L 129.442592 322.267579 L 135.902727 328.222809 L 142.362863 333.884252 L 148.822999 339.266401 L 155.283134 344.383034 L 162.389283 349.720273 L 169.495432 354.768608 L 176.601582 359.543675 L 183.707731 364.060268 L 191.459893 368.709092 L 199.212056 373.084084 L 206.964219 377.201375 L 214.716381 381.076145 L 223.114558 385.016681 L 231.512734 388.706392 L 239.91091 392.161245 L 248.9551 395.636329 L 257.99929 398.873796 L 267.689493 402.097265 L 277.379697 405.085166 L 287.715914 408.031986 L 298.05213 410.749672 L 309.034361 413.406055 L 320.662605 415.980482 L 332.290849 418.330828 L 344.565107 420.590176 L 357.485378 422.745105 L 371.051662 424.784964 L 385.263961 426.701799 L 400.768286 428.563378 L 416.918625 430.276559 L 434.360991 431.898926 L 453.095384 433.411496 L 461.493561 434.020765 L 461.493561 434.020765" clip-path="url(#pf8ef71c514)" style="fill: none; stroke-dasharray: 5.5475,2.3975; stroke-dashoffset: 0; stroke: #808080; stroke-width: 1.7"/>
   </g>
   <g id="line2d_82">
    <g clip-path="url(#pf8ef71c514)">
     <path d="M -0 5.25 L 5.25 -5.25 L -5.25 -5.25 z" transform="translate(74.531439 257.728447)" style="fill: #808080; stroke: #808080"/>
     <path d="M -0 5.25 L 5.25 -5.25 L -5.25 -5.25 z" transform="translate(77.111187 261.439961)" style="fill: #808080; stroke: #808080"/>
     <path d="M -0 5.25 L 5.25 -5.25 L -5.25 -5.25 z" transform="translate(79.690934 265.077244)" style="fill: #808080; stroke: #808080"/>
     <path d="M -0 5.25 L 5.25 -5.25 L -5.25 -5.25 z" transform="translate(82.270682 268.641782)" style="fill: #808080; stroke: #808080"/>
     <path d="M -0 5.25 L 5.25 -5.25 L -5.25 -5.25 z" transform="translate(84.850429 272.13503)" style="fill: #808080; stroke: #808080"/>
     <path d="M -0 5.25 L 5.25 -5.25 L -5.25 -5.25 z" transform="translate(87.430177 275.558412)" style="fill: #808080; stroke: #808080"/>
     <path d="M -0 5.25 L 5.25 -5.25 L -5.25 -5.25 z" transform="translate(92.589672 282.201143)" style="fill: #808080; stroke: #808080"/>
     <path d="M -0 5.25 L 5.25 -5.25 L -5.25 -5.25 z" transform="translate(102.908662 294.707866)" style="fill: #808080; stroke: #808080"/>
     <path d="M -0 5.25 L 5.25 -5.25 L -5.25 -5.25 z" transform="translate(113.227652 306.243668)" style="fill: #808080; stroke: #808080"/>
     <path d="M -0 5.25 L 5.25 -5.25 L -5.25 -5.25 z" transform="translate(131.285884 324.318446)" style="fill: #808080; stroke: #808080"/>
     <path d="M -0 5.25 L 5.25 -5.25 L -5.25 -5.25 z" transform="translate(159.663106 348.028566)" style="fill: #808080; stroke: #808080"/>
     <path d="M -0 5.25 L 5.25 -5.25 L -5.25 -5.25 z" transform="translate(198.359318 372.936546)" style="fill: #808080; stroke: #808080"/>
     <path d="M -0 5.25 L 5.25 -5.25 L -5.25 -5.25 z" transform="translate(255.113763 398.186503)" style="fill: #808080; stroke: #808080"/>
     <path d="M -0 5.25 L 5.25 -5.25 L -5.25 -5.25 z" transform="translate(340.245429 420.140501)" style="fill: #808080; stroke: #808080"/>
     <path d="M -0 5.25 L 5.25 -5.25 L -5.25 -5.25 z" transform="translate(461.493561 434.341578)" style="fill: #808080; stroke: #808080"/>
    </g>
   </g>
   <g id="patch_8">
    <path d="M 55.183333 442.983333 L 55.183333 248.5" style="fill: none; stroke: #000000; stroke-width: 0.8; stroke-linejoin: miter; stroke-linecap: square"/>
   </g>
   <g id="patch_9">
    <path d="M 480.841667 442.983333 L 480.841667 248.5" style="fill: none; stroke: #000000; stroke-width: 0.8; stroke-linejoin: miter; stroke-linecap: square"/>
   </g>
   <g id="patch_10">
    <path d="M 55.183333 442.983333 L 480.841667 442.983333" style="fill: none; stroke: #000000; stroke-width: 0.8; stroke-linejoin: miter; stroke-linecap: square"/>
   </g>
   <g id="patch_11">
    <path d="M 55.183333 248.5 L 480.841667 248.5" style="fill: none; stroke: #000000; stroke-width: 0.8; stroke-linejoin: miter; stroke-linecap: square"/>
   </g>
  </g>
  <g id="patch_12">
   <path d="M 64.983333 102.2 L 134.575 102.2 Q 137.375 102.2 137.375 99.4 L 137.375 10.325 Q 137.375 7.525 134.575 7.525 L 64.983333 7.525 Q 62.183333 7.525 62.183333 10.325 L 62.183333 99.4 Q 62.183333 102.2 64.983333 102.2 z" style="fill: #ffffff; opacity: 0.8; stroke: #cccccc; stroke-linejoin: miter"/>
  </g>
  <g id="patch_13">
   <path d="M 64.983333 435.808333 L 226.741667 435.808333 Q 229.541667 435.808333 229.541667 433.008333 L 229.541667 364.816667 Q 229.541667 362.016667 226.741667 362.016667 L 64.983333 362.016667 Q 62.183333 362.016667 62.183333 364.816667 L 62.183333 433.008333 Q 62.183333 435.808333 64.983333 435.808333 z" style="fill: #ffffff; opacity: 0.8; stroke: #cccccc; stroke-linejoin: miter"/>
  </g>
  <g id="line2d_83">
   <g>
    <path d="M 0 -5.25 L -5.25 5.25 L 5.25 5.25 z" transform="translate(81.725 19.833333)" style="fill: #0000ff; stroke: #0000ff"/>
   </g>
  </g>
  <g id="line2d_84">
   <g>
    <path d="M 0 5.25 C 1.392316 5.25 2.727794 4.696827 3.712311 3.712311 C 4.696827 2.727794 5.25 1.392316 5.25 0 C 5.25 -1.392316 4.696827 -2.727794 3.712311 -3.712311 C 2.727794 -4.696827 1.392316 -5.25 0 -5.25 C -1.392316 -5.25 -2.727794 -4.696827 -3.712311 -3.712311 C -4.696827 -2.727794 -5.25 -1.392316 -5.25 0 C -5.25 1.392316 -4.696827 2.727794 -3.712311 3.712311 C -2.727794 4.696827 -1.392316 5.25 0 5.25 z" transform="translate(81.725 42.875)" style="fill: #00bfbf; stroke: #00bfbf"/>
   </g>
  </g>
  <g id="line2d_85">
   <g>
    <path d="M -0 5.25 L 5.25 -5.25 L -5.25 -5.25 z" transform="translate(81.725 65.216667)" style="fill: #808080; stroke: #808080"/>
   </g>
  </g>
  <g id="line2d_86">
   <path d="M 67.725 88.958333 L 95.725 88.958333" style="fill: none; stroke-dasharray: 5.5475,2.3975; stroke-dashoffset: 0; stroke: #ffa500; stroke-width: 1.7"/>
  </g>
  <g id="line2d_87">
   <g>
    <path d="M 0 -5.25 L -5.25 5.25 L 5.25 5.25 z" transform="translate(81.725 374.5)" style="fill: #ff0000; stroke: #ff0000"/>
   </g>
  </g>
  <g id="line2d_88">
   <g>
    <path d="M 0 5.25 C 1.392316 5.25 2.727794 4.696827 3.712311 3.712311 C 4.696827 2.727794 5.25 1.392316 5.25 0 C 5.25 -1.392316 4.696827 -2.727794 3.712311 -3.712311 C 2.727794 -4.696827 1.392316 -5.25 0 -5.25 C -1.392316 -5.25 -2.727794 -4.696827 -3.712311 -3.712311 C -4.696827 -2.727794 -5.25 -1.392316 -5.25 0 C -5.25 1.392316 -4.696827 2.727794 -3.712311 3.712311 C -2.727794 4.696827 -1.392316 5.25 0 5.25 z" transform="translate(81.725 397.541667)" style="fill: #bf00bf; stroke: #bf00bf"/>
   </g>
  </g>
  <g id="line2d_89">
   <g>
    <path d="M -0 5.25 L 5.25 -5.25 L -5.25 -5.25 z" transform="translate(81.725 419.883333)" style="stroke: #000000"/>
   </g>
  </g>
  <g id="line2d_90">
   <g>
    <path d="M 0 -5.25 L -5.25 5.25 L 5.25 5.25 z" transform="translate(173.6 374.5)" style="fill: #0000ff; stroke: #0000ff"/>
   </g>
  </g>
  <g id="line2d_91">
   <g>
    <path d="M 0 5.25 C 1.392316 5.25 2.727794 4.696827 3.712311 3.712311 C 4.696827 2.727794 5.25 1.392316 5.25 0 C 5.25 -1.392316 4.696827 -2.727794 3.712311 -3.712311 C 2.727794 -4.696827 1.392316 -5.25 0 -5.25 C -1.392316 -5.25 -2.727794 -4.696827 -3.712311 -3.712311 C -4.696827 -2.727794 -5.25 -1.392316 -5.25 0 C -5.25 1.392316 -4.696827 2.727794 -3.712311 3.712311 C -2.727794 4.696827 -1.392316 5.25 0 5.25 z" transform="translate(173.6 397.541667)" style="fill: #00bfbf; stroke: #00bfbf"/>
   </g>
  </g>
  <g id="line2d_92">
   <g>
    <path d="M -0 5.25 L 5.25 -5.25 L -5.25 -5.25 z" transform="translate(173.6 419.883333)" style="fill: #808080; stroke: #808080"/>
   </g>
  </g>
  <g id="text_38">
   
   <g transform="translate(106.808333 25.258333)">
    <text><tspan x="0" y="-0.996875" style="font-style: oblique; font-size: 14px; font-family: 'DejaVu Sans', sans-serif">ε</tspan><tspan x="8.218893" y="-6.509375" style="font-style: oblique; font-size: 9.8px; font-family: 'DejaVu Sans', sans-serif">a</tspan><tspan x="7.567383" y="2.83125" style="font-size: 9.8px; font-family: 'DejaVu Sans', sans-serif">rb</tspan></text>
   </g>
  </g>
  <g id="text_39">
   
   <g transform="translate(106.808333 48.241667)">
    <text><tspan x="0" y="-0.996875" style="font-style: oblique; font-size: 14px; font-family: 'DejaVu Sans', sans-serif">ε</tspan><tspan x="8.218893" y="-6.509375" style="font-style: oblique; font-size: 9.8px; font-family: 'DejaVu Sans', sans-serif">a</tspan><tspan x="7.567383" y="2.83125" style="font-size: 9.8px; font-family: 'DejaVu Sans', sans-serif">del</tspan></text>
   </g>
  </g>
  <g id="text_40">
   
   <g transform="translate(106.808333 70.116667)">
    <text><tspan x="0" y="-0.15" style="font-style: oblique; font-size: 14px; font-family: 'DejaVu Sans', sans-serif">ε</tspan><tspan x="8.218893" y="-5.509375" style="font-style: oblique; font-size: 9.8px; font-family: 'DejaVu Sans', sans-serif">a</tspan><tspan x="7.567383" y="3.678125" style="font-size: 9.8px; font-family: 'DejaVu Sans', sans-serif">rep</tspan></text>
   </g>
  </g>
  <g id="text_41">
   
   <g transform="translate(106.808333 94.033333)">
    <text><tspan x="0" y="-0.609375" style="font-style: oblique; font-size: 14px; font-family: 'DejaVu Sans', sans-serif">η</tspan><tspan x="8.873047" y="-0.609375" style="font-size: 14px; font-family: 'DejaVu Sans', sans-serif">/2</tspan></text>
   </g>
  </g>
  <g id="text_42">
   
   <g transform="translate(106.808333 379.4)">
    <text><tspan x="0" y="-0.996875" style="font-style: oblique; font-size: 14px; font-family: 'DejaVu Sans', sans-serif">ε</tspan><tspan x="8.218893" y="-6.509375" style="font-style: oblique; font-size: 9.8px; font-family: 'DejaVu Sans', sans-serif">c</tspan><tspan x="7.567383" y="2.83125" style="font-size: 9.8px; font-family: 'DejaVu Sans', sans-serif">rb</tspan></text>
   </g>
  </g>
  <g id="text_43">
   
   <g transform="translate(106.808333 402.675)">
    <text><tspan x="0" y="-0.996875" style="font-style: oblique; font-size: 14px; font-family: 'DejaVu Sans', sans-serif">ε</tspan><tspan x="8.218893" y="-6.509375" style="font-style: oblique; font-size: 9.8px; font-family: 'DejaVu Sans', sans-serif">c</tspan><tspan x="7.567383" y="2.83125" style="font-size: 9.8px; font-family: 'DejaVu Sans', sans-serif">del</tspan></text>
   </g>
  </g>
  <g id="text_44">
   
   <g transform="translate(106.808333 424.608333)">
    <text><tspan x="0" y="-0.15" style="font-style: oblique; font-size: 14px; font-family: 'DejaVu Sans', sans-serif">ε</tspan><tspan x="8.218893" y="-5.509375" style="font-style: oblique; font-size: 9.8px; font-family: 'DejaVu Sans', sans-serif">c</tspan><tspan x="7.567383" y="3.678125" style="font-size: 9.8px; font-family: 'DejaVu Sans', sans-serif">rep</tspan></text>
   </g>
  </g>
  <g id="text_45">
   
   <g transform="translate(198.683333 379.4)">
    <text><tspan x="0" y="-0.996875" style="font-style: oblique; font-size: 14px; font-family: 'DejaVu Sans', sans-serif">ε</tspan><tspan x="8.218893" y="-6.509375" style="font-style: oblique; font-size: 9.8px; font-family: 'DejaVu Sans', sans-serif">a</tspan><tspan x="7.567383" y="2.83125" style="font-size: 9.8px; font-family: 'DejaVu Sans', sans-serif">rb</tspan></text>
   </g>
  </g>
  <g id="text_46">
   
   <g transform="translate(198.683333 402.675)">
    <text><tspan x="0" y="-0.996875" style="font-style: oblique; font-size: 14px; font-family: 'DejaVu Sans', sans-serif">ε</tspan><tspan x="8.218893" y="-6.509375" style="font-style: oblique; font-size: 9.8px; font-family: 'DejaVu Sans', sans-serif">a</tspan><tspan x="7.567383" y="2.83125" style="font-size: 9.8px; font-family: 'DejaVu Sans', sans-serif">del</tspan></text>
   </g>
  </g>
  <g id="text_47">
   
   <g transform="translate(198.683333 424.608333)">
    <text><tspan x="0" y="-0.15" style="font-style: oblique; font-size: 14px; font-family: 'DejaVu Sans', sans-serif">ε</tspan><tspan x="8.218893" y="-5.509375" style="font-style: oblique; font-size: 9.8px; font-family: 'DejaVu Sans', sans-serif">a</tspan><tspan x="7.567383" y="3.678125" style="font-size: 9.8px; font-family: 'DejaVu Sans', sans-serif">rep</tspan></text>
   </g>
  </g>
 </g>
 <defs>
  <clipPath id="p21c2584562">
   <rect x="55.183333" y="0.4375" width="425.658333" height="194.425"/>
  </clipPath>
  <clipPath id="pf8ef71c514">
   <rect x="55.183333" y="248.5" width="425.658333" height="194.483333"/>
  </clipPath>
 </defs>
</svg>

</body></html>
